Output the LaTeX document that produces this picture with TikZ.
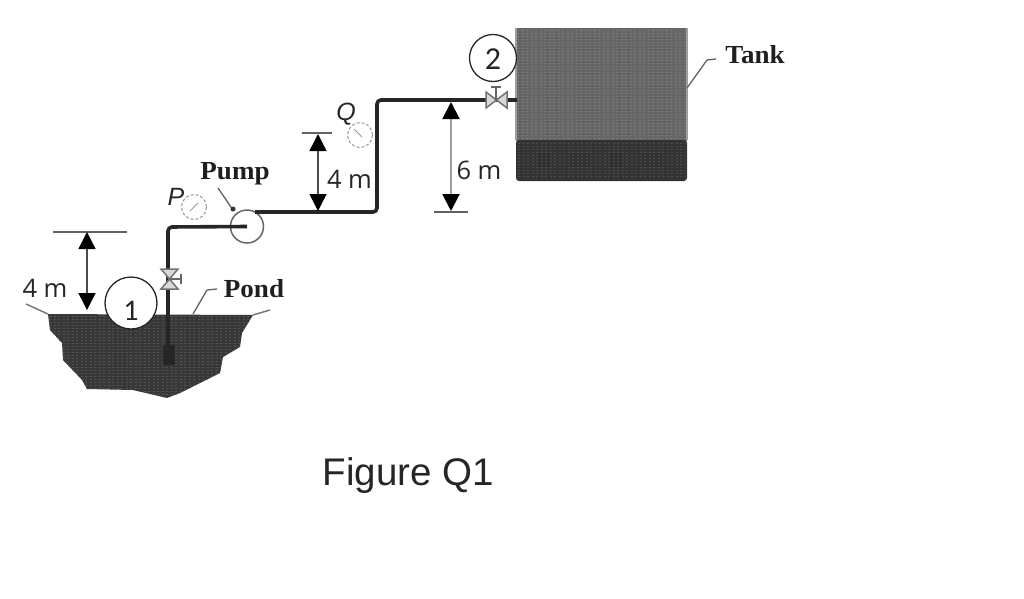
\documentclass[tikz,border=0pt]{standalone}
\usepackage{fontspec}
\setmainfont{Liberation Serif}
\newfontfamily\sansf{Liberation Sans}
\newfontfamily\calf{Carlito}
\newfontfamily\opsf{Open Sans}
\usetikzlibrary{arrows.meta}
\tikzset{
  pipe/.style={line width=3.6pt,draw=black!85,rounded corners=4pt},
  dimline/.style={line width=1.4pt,draw=black!70,{Triangle[length=17pt,width=17pt,color=black]}-{Triangle[length=17pt,width=17pt,color=black]}},
  refbar/.style={line width=1.8pt,draw=black!62},
  leader/.style={line width=1.3pt,draw=black!62},
  tagtext/.style={font=\fontsize{26}{26}\selectfont\bfseries,text=black!88,inner sep=0pt,xscale=1.04},
  dimtext/.style={font=\opsf\fontsize{25.5}{26}\selectfont,text=black!85,inner sep=0pt},
  pointmark/.style={circle,draw=black!85,line width=1.3pt,fill=white,minimum size=#1,inner sep=0pt},
  gauge/.style={circle,draw=black!40,densely dashed,line width=1pt,fill=white,minimum size=25pt,inner sep=0pt},
  varname/.style={font=\sansf\fontsize{25}{25}\selectfont\itshape,text=black!85,inner sep=0pt},
  valve/.style={draw=black!55,line width=1.5pt,fill=black!15},
  grain/.style={line width=0.8pt,dash pattern=on 2pt off 2.5pt}
}
\begin{document}
\begin{tikzpicture}[x=1pt,y=-1pt]
\useasboundingbox (0,0) rectangle (1024,598);
% pond
\draw[line width=1.4pt,draw=black!55] (26,304) -- (48,314) (253,315) -- (270,310);
\begin{scope}
\path[clip] (48,314) -- (50,330) -- (62,343) -- (63,360) -- (82,380) -- (87,389) -- (133,390) -- (167,398) -- (180,393) -- (200,383) -- (220,373) -- (223,357) -- (240,347) -- (242,333) -- (253,315) -- cycle;
\fill[black!78] (40,310) rectangle (260,400);
\foreach \yy in {316,319,...,400} {\draw[grain,black!68] (40,\yy) -- (260,\yy);}
\end{scope}
% tank
\fill[black!60] (516,28) rectangle (687,141);
\foreach \yy in {30,33,...,138} {\draw[grain,black!52] (517,\yy) -- (686,\yy);}
\fill[black!80, rounded corners=3pt] (516,140) -- (516,181) -- (687,181) -- (687,140) -- cycle;
\foreach \yy in {143,146,...,178} {\draw[grain,black!70] (518,\yy) -- (685,\yy);}
\draw[line width=1.4pt,draw=black!38] (516,28) -- (516,140) (687,28) -- (687,140);
% named points
\coordinate (pipeIn) at (168,350);
\coordinate (bend1) at (168,227);
\coordinate (pumpTop) at (255,212);
\coordinate (upA) at (377,212);
\coordinate (upB) at (377,100);
\coordinate (tankIn) at (517,100);
\node[circle,draw=black!60,line width=1.5pt,fill=white,minimum size=33pt,inner sep=0pt] (pump) at (247,226.5) {};
% gauges
\node[gauge] (gP) at (194,207) {};
\node[gauge] (gQ) at (360,135) {};
\draw[black!40,line width=0.9pt] (190,211) -- (198,203);
\draw[black!40,line width=0.9pt] (354,129) -- (362,137);
\node[varname] (P) at (176,197) {P};
\node[varname] (Q) at (346,114) {Q};
% pipes
\fill[black!85] (163,345) rectangle (175,365);
\draw[pipe] (pipeIn) -- (bend1) -- (pump.center);
\draw[pipe] (pumpTop) -- (upA) -- (upB) -- (tankIn);
% valves
\draw[valve] (161,269) -- (178,269) -- (161,289) -- (178,289) -- cycle;
\draw[black!60,line width=1.6pt] (169,279) -- (181,279) (181,274) -- (181,284);
\draw[valve] (486,92) -- (486,108) -- (507,92) -- (507,108) -- cycle;
\draw[black!60,line width=1.6pt] (496,100) -- (496,87) (491,87) -- (501,87);
% dimension lines
\draw[refbar] (53,232) -- (127,232);
\coordinate (a1) at (87,232); \coordinate (a2) at (87,310);
\draw[dimline] (a1) -- (a2);
\node[dimtext] (d1) at (45,288) {4 m};
\draw[refbar] (302,133) -- (332,133);
\coordinate (b1) at (318,134); \coordinate (b2) at (318,211);
\draw[dimline] (b1) -- (b2);
\node[dimtext] (d2) at (349.5,179) {4 m};
\draw[refbar] (434,212) -- (468,212);
\coordinate (c1) at (451,102); \coordinate (c2) at (451,211);
\draw[dimline,draw=black!38,line width=2pt] (c1) -- (c2);
\node[dimtext] (d3) at (479,170) {6 m};
% markers
\node[pointmark=52pt] (m1) at (131,303) {};
\node[font=\calf\fontsize{30}{30}\selectfont,text=black!85] (n1) at (131,311) {1};
\node[pointmark=47pt] (m2) at (493,58) {};
\node[font=\calf\fontsize{32}{32}\selectfont,text=black!85] (n2) at (493,59) {2};
% labels
\node[tagtext] (pumpL) at (235,174) {Pump};
\node[tagtext] (pondL) at (254,289) {Pond};
\node[tagtext] (tankL) at (755,55) {Tank};
\draw[leader] (218,188) -- (233,210);
\fill[black!80] (233,209) circle (2.5pt);
\draw[leader] (193,314) -- (207,290) -- (217,289);
\draw[leader] (687,88) -- (707,60) -- (716,59);
% caption
\node[font=\sansf\fontsize{38.5}{39}\selectfont,text=black!85,inner sep=0pt] (cap) at (408.5,476) {Figure Q1};
\end{tikzpicture}
\end{document}
